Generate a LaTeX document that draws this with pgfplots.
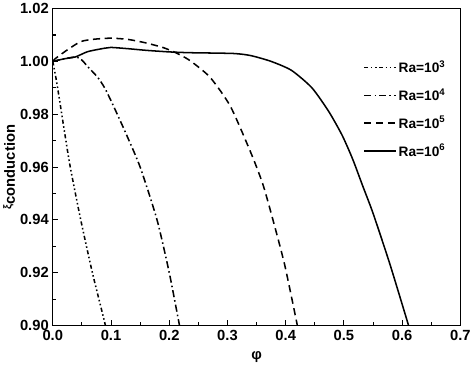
\documentclass[border=0pt]{standalone}
\usepackage{fontspec}
\setmainfont{Liberation Sans}
\usepackage{pgfplots}
\pgfplotsset{compat=1.18}
\begin{document}
\begin{tikzpicture}[x=1bp,y=1bp]
\begin{axis}[
  scale only axis,
  width=400bp, height=311bp,
  xmin=0, xmax=0.7, ymin=0.90, ymax=1.02,
  xtick={0,0.1,...,0.7},
  ytick={0.90,0.92,...,1.02},
  minor x tick num=1, minor y tick num=1,
  tick pos=left,
  tick align=inside,
  major tick length=5bp, minor tick length=3bp,
  axis line style={line width=1.3bp},
  every tick/.style={line width=1bp, black},
  /pgf/number format/assume math mode=true,
  ticklabel style={font=\bfseries\fontsize{14.5}{15}\selectfont},
  xticklabel style={yshift=-1.5bp, /pgf/number format/.cd, fixed, fixed zerofill, precision=1},
  yticklabel style={xshift=-0.5bp, /pgf/number format/.cd, fixed, fixed zerofill, precision=2},
  xlabel={\bfseries\fontsize{14.5}{15}\selectfont φ},
  ylabel={\bfseries\fontsize{14.5}{15}\selectfont {\fontsize{11}{11}\selectfont ξ}\raisebox{-0.45ex}{conduction}},
  xlabel style={yshift=-3bp},
  ylabel style={yshift=-2bp},
  legend style={draw=none, fill=none, at={(0.762,0.842)}, anchor=north west,
    font=\bfseries\fontsize{13.5}{14}\selectfont, row sep=10bp, inner sep=0pt,
    /tikz/every even column/.append style={column sep=3bp}},
  legend cell align=left,
  legend image code/.code={\draw[#1] (0bp,0bp) -- (31bp,0bp);},
  every axis plot/.append style={line width=1.5bp, black},
]
\addplot[smooth, tension=0.4, dash pattern=on 4bp off 2.5bp on 1.5bp off 2.5bp on 1.5bp off 2.5bp] coordinates {
(0,1.000)(0.006,0.993)(0.0128,0.9837)(0.020,0.9735)(0.030,0.960)(0.048,0.940)(0.068,0.920)(0.089,0.9013)(0.090,0.900)};
\addlegendentry{Ra=10\textsuperscript{3}}
\addplot[smooth, tension=0.4, dash pattern=on 7bp off 3bp on 1.5bp off 3bp] coordinates {
(0,1.000)(0.02,1.001)(0.04,1.0017)(0.05,1.0005)(0.06,0.998)(0.077,0.994)(0.089,0.990)(0.103,0.9837)(0.125,0.973)(0.150,0.960)(0.179,0.940)(0.200,0.920)(0.217,0.9007)(0.218,0.900)};
\addlegendentry{Ra=10\textsuperscript{4}}
\addplot[smooth, tension=0.4, dash pattern=on 7bp off 4.5bp] coordinates {
(0,1.000)(0.004,1.001)(0.0245,1.0043)(0.048,1.0075)(0.071,1.0084)(0.1,1.0088)(0.13,1.0083)(0.16,1.007)(0.19,1.0052)(0.211,1.0033)(0.235,1.0004)(0.27,0.994)(0.305,0.983)(0.34,0.9655)(0.36,0.954)(0.375,0.9425)(0.398,0.9232)(0.420,0.900)};
\addlegendentry{Ra=10\textsuperscript{5}}
\addplot[smooth, tension=0.4, solid] coordinates {
(0,1.000)(0.02,1.001)(0.039,1.0017)(0.06,1.0037)(0.089,1.005)(0.1,1.0053)(0.13,1.0048)(0.16,1.0042)(0.2,1.0036)(0.235,1.0033)(0.31,1.0030)(0.34,1.0022)(0.375,1.0000)(0.41,0.9966)(0.445,0.990)(0.474,0.981)(0.497,0.972)(0.515,0.963)(0.532,0.953)(0.550,0.9425)(0.579,0.9232)(0.611,0.900)};
\addlegendentry{Ra=10\textsuperscript{6}}
\end{axis}
\end{tikzpicture}
\end{document}
